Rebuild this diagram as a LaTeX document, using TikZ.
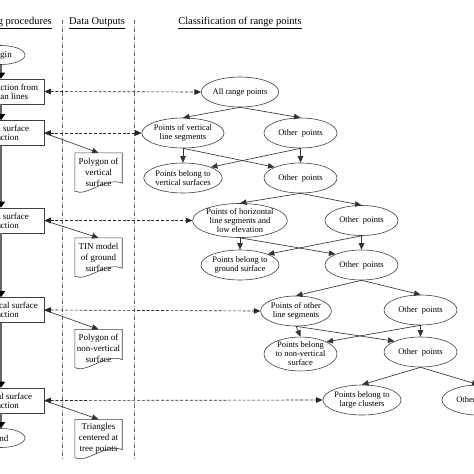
\documentclass[tikz,border=0pt]{standalone}
\usepackage{fontspec}
\setmainfont{Liberation Serif}
\usepackage{tikz}
\usetikzlibrary{calc}
\usetikzlibrary{shapes.geometric, arrows.meta}
\tikzset{proc/.style={rectangle, draw=black!75, line width=0.6pt, minimum width=86pt, minimum height=25pt, inner sep=0pt, align=center, font=\fontsize{9}{9}\selectfont}}
\tikzset{term/.style={ellipse, draw=black!75, line width=0.6pt, minimum width=48pt, minimum height=19pt, inner sep=0pt, font=\fontsize{9}{9}\selectfont}}
\tikzset{cls/.style={ellipse, draw=black!75, line width=0.6pt, minimum width=73pt, minimum height=30pt, inner sep=0pt, align=center, font=\fontsize{8.5}{9}\selectfont}}
\tikzset{doc/.style={rectangle, minimum width=47pt, minimum height=38pt, inner sep=0pt, align=center, font=\fontsize{9}{11}\selectfont}}
\tikzset{head/.style={inner sep=1pt, font=\fontsize{10.5}{11}\selectfont}}
\tikzset{flow/.style={draw=black!60, line width=2.2pt, -{Triangle[length=6pt, width=8pt, color=black]}}}
\tikzset{link/.style={draw=black!85, line width=0.65pt, dash pattern=on 3pt off 1.8pt, {Triangle[length=6.5pt, width=5.5pt]}-{Triangle[length=6.5pt, width=5.5pt]}}}
\tikzset{tree/.style={draw=black!80, line width=0.65pt, -{Triangle[length=6.5pt, width=5.5pt]}}}
\tikzset{sep/.style={draw=black!60, line width=0.6pt, dash pattern=on 4pt off 1.5pt on 1pt off 1.5pt}}

\begin{document}
\begin{tikzpicture}[x=10pt, y=10pt]
		\useasboundingbox (0,0) rectangle (47.4,-47.4);

		\node[head, anchor=east] (hproc) at (5.3,-2.3) {\underline{Processing procedures}};
		\node[head] (hout) at (9.7,-2.3) {\underline{Data Outputs}};
		\node[head] (hcls) at (24,-2.3) {\underline{Classification of range points}};
		\draw[sep] (6.2,-2.0) -- (6.2,-45.8);
		\draw[sep] (13.4,-2.0) -- (13.4,-45.8);

		\node[term] at (0.1,-5.5) (begin) {Begin};
		\node[proc] at (0.1,-9.15) (p1) {Line extraction from\\laser scan lines};
		\node[proc] at (0.1,-13.3) (p2) {Vertical surface\\extraction};
		\node[proc] at (0.1,-22.05) (p3) {Ground surface\\extraction};
		\node[proc] at (0.1,-31) (p4) {Non-vertical surface\\extraction};
		\node[proc] at (0.1,-40.05) (p5) {Spherical surface\\extraction};
		\node[term] at (0.1,-43.8) (end) {End};

		\node[doc] at (9.85,-17.2) (d1) {Polygon of\\vertical\\surface};
		\node[doc] at (9.85,-25.7) (d2) {TIN model\\of ground\\surface};
		\node[doc] at (9.85,-34.85) (d3) {Polygon of\\non-vertical\\surface};
		\node[doc] at (9.85,-43.85) (d4) {Triangles\\centered at\\tree points};
		\foreach \d in {d1,d2,d3,d4}
			\draw[draw=black!75, line width=0.6pt] (\d.north west) -- (\d.north east) -- ([yshift=8pt]\d.south east) .. controls ([xshift=-16pt,yshift=15pt]\d.south east) and ([xshift=12pt,yshift=-6pt]\d.south west) .. (\d.south west) -- cycle;

		\node[cls] at (24,-9.2) (ar) {All range points};
		\node[cls] at (18.3,-13.3) (pv) {Points of vertical\\line segments};
		\node[cls] at (30.05,-13.3) (o1) {Other\ \ points};
		\node[cls] at (18.3,-17.8) (pb) {Points belong to\\vertical surfaces};
		\node[cls] at (30.05,-17.8) (o2) {Other\ \ points};
		\node[cls, minimum width=84pt, minimum height=33pt] at (24,-22.05) (ph) {Points of horizontal\\line segments and\\low elevation};
		\node[cls] at (36.15,-22.05) (o3) {Other\ \ points};
		\node[cls] at (24,-26.5) (pg) {Points belong to\\ground surface};
		\node[cls] at (36.15,-26.5) (o4) {Other\ \ points};
		\node[cls, minimum width=65pt] at (29.6,-31.1) (po) {Points of other\\line segments};
		\node[cls] at (42.05,-31) (o5) {Other\ \ points};
		\node[cls] at (30.05,-35.4) (pn) {Points belong\\to non-vertical\\surface};
		\node[cls] at (42.05,-35.2) (o6) {Other\ \ points};
		\node[cls] at (36.2,-40) (pc) {Points belong to\\large clusters};
		\node[cls] at (47.85,-40) (o7) {Other\ \ points};

		\draw[flow] (begin) -- (p1);
		\draw[flow] (p1) -- (p2);
		\draw[flow] (p2) -- (p3);
		\draw[flow] (p3) -- (p4);
		\draw[flow] (p4) -- (p5);
		\draw[flow] (p5) -- (end);

		\draw[link] (p1.east) -- (ar.west);
		\draw[link] (p2.east) -- (pv.west);
		\draw[link] (p3.east) -- (ph.west);
		\draw[link] (p4.east) -- (po.west);
		\draw[link] (p5.east) -- (pc.west);

		\draw[tree] (p2.east) -- (d1.north);
		\draw[tree] (p3.east) -- (d2.north);
		\draw[tree] (p4.east) -- (d3.north);
		\draw[tree] (p5.east) -- (d4.north);

		\draw[tree] (ar.south) -- (pv.north);
		\draw[tree] (ar.south) -- (o1.north);
		\draw[tree] (pv.south) -- (pb.north);
		\draw[tree] (pv.south) -- (o2.north west);
		\draw[tree] (o1.south) -- (pb.north east);
		\draw[tree] (o1.south) -- (o2.north);
		\draw[tree] (o2.south) -- (ph.north);
		\draw[tree] (o2.south) -- (o3.north);
		\draw[tree] (ph.south) -- (pg.north);
		\draw[tree] (ph.south) -- (o4.north west);
		\draw[tree] (o3.south) -- (pg.north east);
		\draw[tree] (o3.south) -- (o4.north);
		\draw[tree] (o4.south) -- (po.north);
		\draw[tree] (o4.south) -- (o5.north);
		\draw[tree] (po.south) -- (pn.north);
		\draw[tree] (po.south) -- (o6.north west);
		\draw[tree] (o5.south) -- (pn.north east);
		\draw[tree] (o5.south) -- (o6.north);
		\draw[tree] (o6.south) -- (pc.north);
		\draw[tree] (o6.south) -- (o7.north);
\end{tikzpicture}
\end{document}
